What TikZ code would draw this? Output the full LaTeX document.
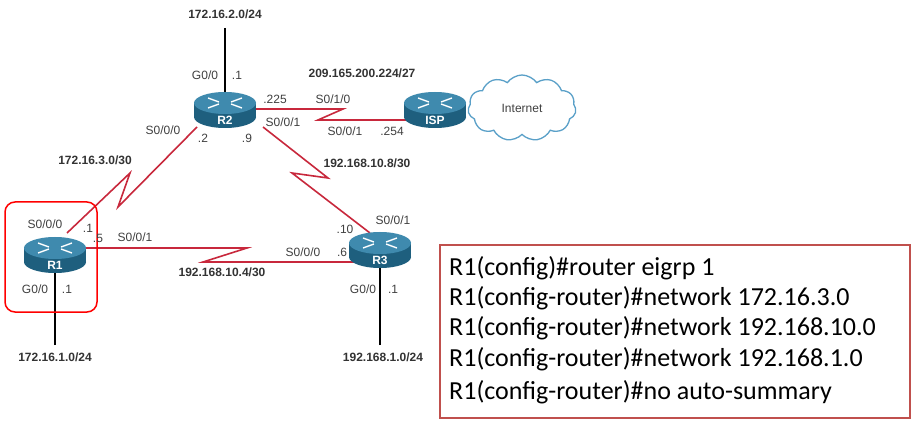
\documentclass[tikz,border=0pt]{standalone}
\usepackage{fontspec}
\setmainfont{Liberation Sans}
\newfontfamily\calfont{Carlito}
\usetikzlibrary{shapes.symbols,calc}
\definecolor{rb}{HTML}{1E5F7E}
\definecolor{rt}{HTML}{3F8AAE}
\definecolor{ser}{HTML}{C8283C}
\definecolor{lab}{HTML}{404040}
\definecolor{bx}{HTML}{C0504D}
\definecolor{cl}{HTML}{5AA0C8}
\tikzset{
 lb/.style={font=\fontsize{12}{13}\selectfont,text=lab,inner sep=0pt},
 bl/.style={font=\fontsize{12}{13}\selectfont\bfseries,text=lab!80!black,inner sep=0pt},
 serial/.style={draw=ser,line width=1.6pt,line join=miter},
 eth/.style={draw=black,line width=2pt},
 cmd/.style={font=\calfont\fontsize{26}{28}\selectfont,anchor=west,inner sep=0pt}
}
\newcommand{\router}[3]{%
 \begin{scope}[shift={(#1)}]
  \fill[rb] (-31,-7) rectangle (31,7);
  \fill[rb] (0,7) ellipse[x radius=31,y radius=11];
  \fill[rt] (0,-7) ellipse[x radius=31,y radius=11];
  \begin{scope}[white,line width=1.4pt]
   \draw (-17,-12)--(-6,-8); \draw (17,-12)--(6,-8);
   \draw (-17,-2)--(-6,-6); \draw (17,-2)--(6,-6);
  \end{scope}
 \end{scope}
 \node[font=\fontsize{12}{13}\selectfont\bfseries,text=white,inner sep=0pt] (#3) at ($(#1)+(0,10)$) {#2};}
\begin{document}
\begin{tikzpicture}[x=1pt,y=-1pt]
\useasboundingbox (0,0) rectangle (915,430);
\fill[white] (0,0) rectangle (915,430);
\coordinate (c2) at (225,110);
\coordinate (c1) at (55,255);
\coordinate (c3) at (380,250);
\coordinate (ci) at (435,110);
\coordinate (e2) at (225,28);
\coordinate (e1) at (55,345);
\coordinate (e3) at (380,345);
\draw[eth] (e2) -- (c2);
\draw[eth] (e1) -- (c1);
\draw[eth] (e3) -- (c3);
\draw[serial] (197,127) -- (118,207) -- (130,173) -- (67,233);
\draw[serial] (263,127) -- (328,178) -- (292,173) -- (370,233);
\draw[serial] (80,248) -- (247,248) -- (203,262) -- (360,262);
\draw[serial] (250,109) -- (343,109) -- (318,120) -- (410,120);
\node[cloud,cloud puffs=11,cloud puff arc=110,aspect=1.7,draw=cl,line width=1.3pt,fill=white,minimum width=108,minimum height=66,font=\fontsize{12}{13}\selectfont,text=lab] (inet) at (522,108) {Internet};
\router{c2}{R2}{r2}
\router{c1}{R1}{r1}
\router{c3}{R3}{r3}
\router{ci}{ISP}{isp}
\draw[red,line width=1.5pt,rounded corners=10] (5,202) rectangle (97,312);
\node[bl] (n1) at (225,14) {172.16.2.0/24};
\node[bl] (n2) at (55,357) {172.16.1.0/24};
\node[bl] (n3) at (383,357) {192.168.1.0/24};
\node[bl] (n4) at (362,73) {209.165.200.224/27};
\node[bl] (n5) at (95,160) {172.16.3.0/30};
\node[bl] (n6) at (367,163) {192.168.10.8/30};
\node[bl] (n7) at (222,272) {192.168.10.4/30};
\node[lb] at (205,75) {G0/0};
\node[lb] at (237,75) {.1};
\node[lb] at (275,99) {.225};
\node[lb] at (333,99) {S0/1/0};
\node[lb] at (283,122) {S0/0/1};
\node[lb] at (345,131) {S0/0/1};
\node[lb] at (392,131) {.254};
\node[lb] at (163,130) {S0/0/0};
\node[lb] at (203,138) {.2};
\node[lb] at (247,138) {.9};
\node[lb] at (45,224) {S0/0/0};
\node[lb] at (88,228) {.1};
\node[lb] at (98,238) {.5};
\node[lb] at (135,237) {S0/0/1};
\node[lb] at (303,252) {S0/0/0};
\node[lb] at (342,252) {.6};
\node[lb] at (345,229) {.10};
\node[lb] at (393,220) {S0/0/1};
\node[lb] at (35,289) {G0/0};
\node[lb] at (67,289) {.1};
\node[lb] at (363,289) {G0/0};
\node[lb] at (393,289) {.1};
\draw[bx,line width=1.3pt] (440,245) rectangle (910,418);
\node[cmd] (l1) at (449,268) {R1(config)\#router eigrp 1};
\node[cmd] (l2) at (449,298) {R1(config-router)\#network 172.16.3.0};
\node[cmd] (l3) at (449,328) {R1(config-router)\#network 192.168.10.0};
\node[cmd] (l4) at (449,359) {R1(config-router)\#network 192.168.1.0};
\node[cmd] (l5) at (449,392) {R1(config-router)\#no auto-summary};
\end{tikzpicture}
\end{document}
